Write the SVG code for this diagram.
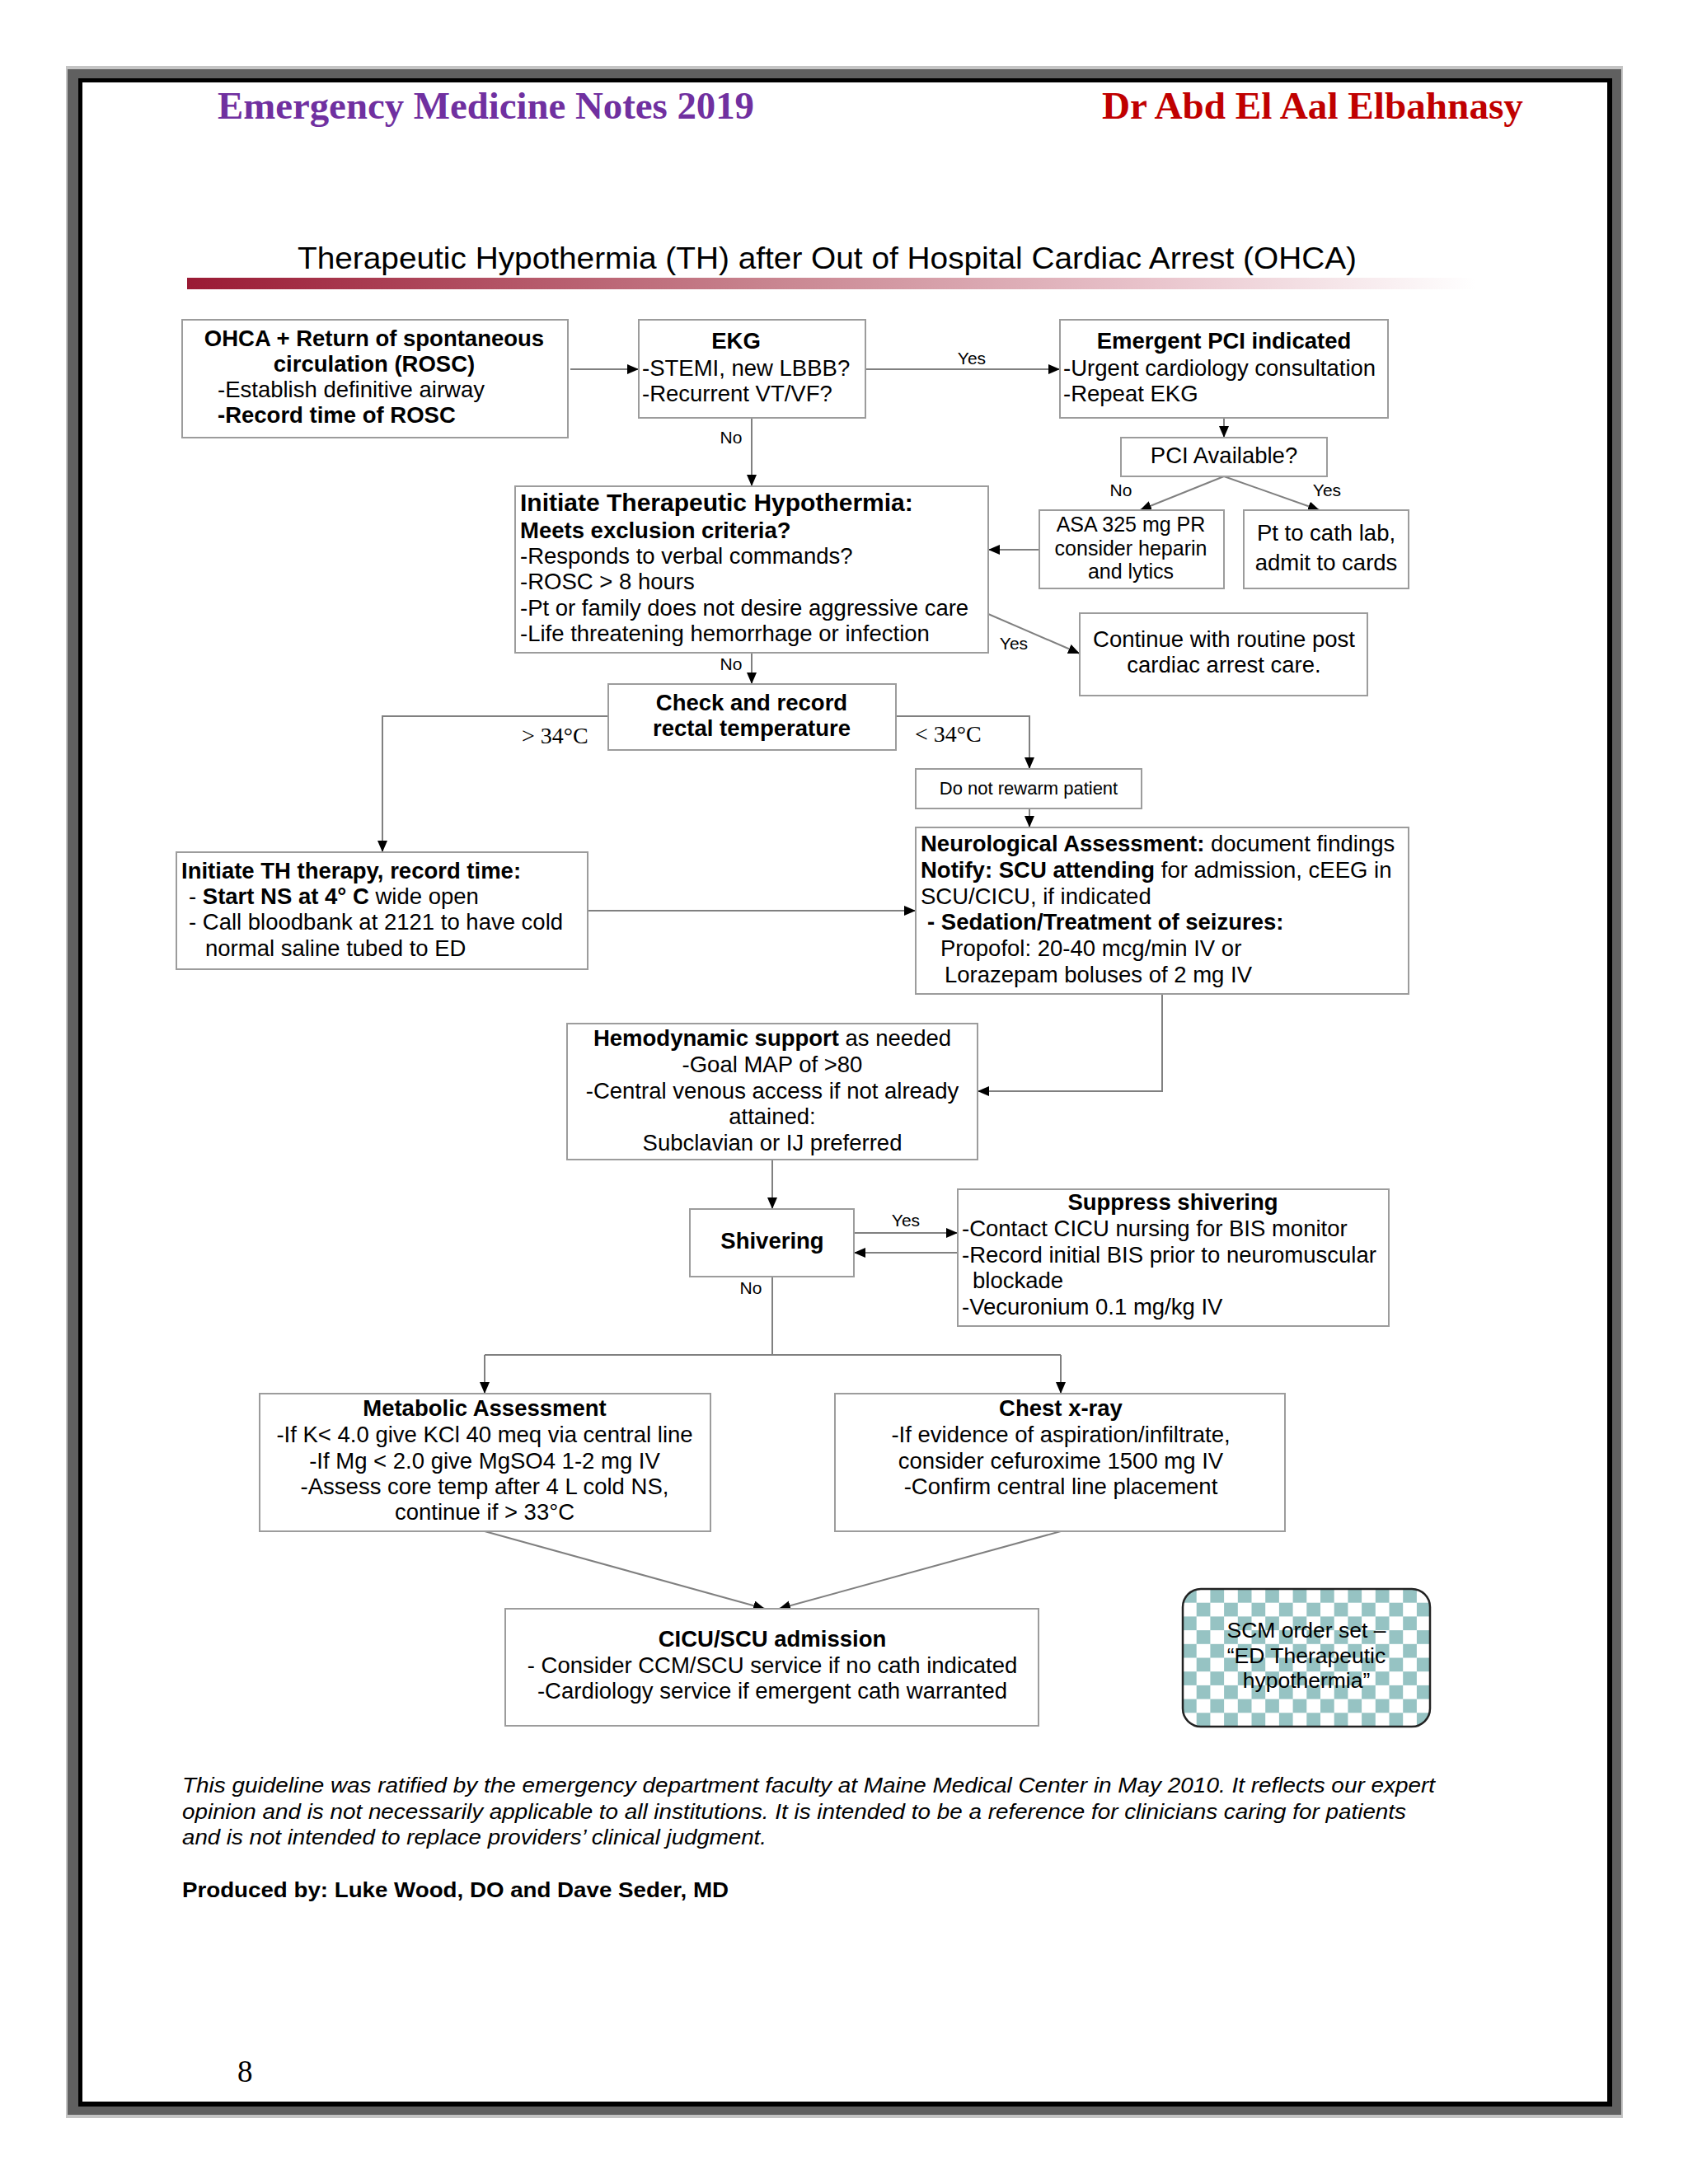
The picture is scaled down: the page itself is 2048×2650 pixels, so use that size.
<svg xmlns="http://www.w3.org/2000/svg" width="2048" height="2650" viewBox="0 0 2048 2650">
<defs>
<style>
.box{fill:#fff;stroke:#9c9c9c;stroke-width:2}
.t{font-family:"Liberation Sans",Arial,sans-serif;font-size:27.5px;fill:#000}
.s25{font-size:25px}
.s26{font-size:26.5px}
.s22{font-size:22px}
.s30{font-size:30px}
.b{font-weight:bold}
.c{text-anchor:middle}
.lbl{font-family:"Liberation Sans",Arial,sans-serif;font-size:21px;fill:#000;text-anchor:middle}
.tmp{font-family:"Liberation Serif","Times New Roman",serif;font-size:28px;fill:#000}
.conn{fill:none;stroke:#808080;stroke-width:2}
</style>
<marker id="ah" markerUnits="userSpaceOnUse" markerWidth="16" markerHeight="14" refX="14" refY="6" orient="auto">
<path d="M0,0 L14,6 L0,12 Z" fill="#000"/>
</marker>
<linearGradient id="bar" x1="0" y1="0" x2="1" y2="0">
<stop offset="0" stop-color="#9a1a34"/>
<stop offset="0.45" stop-color="#c8848f"/>
<stop offset="0.75" stop-color="#e9c4cc"/>
<stop offset="1" stop-color="#ffffff"/>
</linearGradient>
<pattern id="chk" patternUnits="userSpaceOnUse" x="1435" y="1928" width="33.4" height="33.4">
<rect width="33.4" height="33.4" fill="#fff"/>
<rect width="16.7" height="16.7" fill="#96c3c3"/>
<rect x="16.7" y="16.7" width="16.7" height="16.7" fill="#96c3c3"/>
</pattern>
</defs>

<!-- page frame -->
<rect x="0" y="0" width="2048" height="2650" fill="#fff"/>
<rect x="80" y="80" width="1889" height="2490" fill="#c4c4c4"/>
<rect x="82" y="84" width="1885" height="2482" fill="#606060"/>
<rect x="95" y="95" width="1861" height="2461" fill="#000"/>
<rect x="100" y="100" width="1850" height="2450" fill="#fff"/>

<g id="header">
<text x="264" y="144" font-family="'Liberation Serif','Times New Roman',serif" font-weight="bold" font-size="46" fill="#7030a0" textLength="651" lengthAdjust="spacingAndGlyphs">Emergency Medicine Notes 2019</text>
<text x="1337" y="144" font-family="'Liberation Serif','Times New Roman',serif" font-weight="bold" font-size="46" fill="#c00000" textLength="511" lengthAdjust="spacingAndGlyphs">Dr Abd El Aal Elbahnasy</text>
</g>

<g id="title">
<text x="361" y="326" font-family="'Liberation Sans',Arial,sans-serif" font-size="36" fill="#000" textLength="1285" lengthAdjust="spacingAndGlyphs">Therapeutic Hypothermia (TH) after Out of Hospital Cardiac Arrest (OHCA)</text>
<rect x="227" y="337" width="1563" height="14" fill="url(#bar)"/>
</g>

<g id="connectors">
<path class="conn" d="M692,448 H775" marker-end="url(#ah)"/>
<path class="conn" d="M1050,448 H1286" marker-end="url(#ah)"/>
<path class="conn" d="M912,507 V590" marker-end="url(#ah)"/>
<path class="conn" d="M1485,507 V531" marker-end="url(#ah)"/>
<path class="conn" d="M1485,578 L1383,619" marker-end="url(#ah)"/>
<path class="conn" d="M1485,578 L1601,619" marker-end="url(#ah)"/>
<path class="conn" d="M1261,667 H1199" marker-end="url(#ah)"/>
<path class="conn" d="M1199,745 L1310,793" marker-end="url(#ah)"/>
<path class="conn" d="M912,792 V830" marker-end="url(#ah)"/>
<path class="conn" d="M738,869 H464 V1034" marker-end="url(#ah)"/>
<path class="conn" d="M1087,869 H1249 V933" marker-end="url(#ah)"/>
<path class="conn" d="M1249,981 V1004" marker-end="url(#ah)"/>
<path class="conn" d="M713,1105 H1111" marker-end="url(#ah)"/>
<path class="conn" d="M1410,1206 V1324 H1186" marker-end="url(#ah)"/>
<path class="conn" d="M937,1407 V1467" marker-end="url(#ah)"/>
<path class="conn" d="M1036,1496 H1162" marker-end="url(#ah)"/>
<path class="conn" d="M1162,1520 H1036" marker-end="url(#ah)"/>
<path class="conn" d="M937,1549 V1644 M588,1644 H1287"/>
<path class="conn" d="M588,1644 V1691" marker-end="url(#ah)"/>
<path class="conn" d="M1287,1644 V1691" marker-end="url(#ah)"/>
<path class="conn" d="M588,1858 L928,1952" marker-end="url(#ah)"/>
<path class="conn" d="M1287,1858 L945,1952" marker-end="url(#ah)"/>
<text class="lbl" x="1179" y="442">Yes</text>
<text class="lbl" x="887" y="538">No</text>
<text class="lbl" x="1360" y="602">No</text>
<text class="lbl" x="1610" y="602">Yes</text>
<text class="lbl" x="1230" y="788">Yes</text>
<text class="lbl" x="887" y="813">No</text>
<text class="tmp" x="633" y="902">&gt; 34°C</text>
<text class="tmp" x="1110" y="900">&lt; 34°C</text>
<text class="lbl" x="1099" y="1488">Yes</text>
<text class="lbl" x="911" y="1570">No</text>
</g>

<g id="ohca">
<rect class="box" x="221" y="388" width="468" height="143"/>
<text class="t b c" x="454" y="420">OHCA + Return of spontaneous</text>
<text class="t b c" x="454" y="451">circulation (ROSC)</text>
<text class="t" x="264" y="482">-Establish definitive airway</text>
<text class="t b" x="264" y="513">-Record time of ROSC</text>
</g>

<g id="ekg">
<rect class="box" x="775" y="388" width="275" height="119"/>
<text class="t b c" x="893" y="423">EKG</text>
<text class="t" x="779" y="456">-STEMI, new LBBB?</text>
<text class="t" x="779" y="487">-Recurrent VT/VF?</text>
</g>

<g id="pci">
<rect class="box" x="1286" y="388" width="398" height="119"/>
<text class="t b c" x="1485" y="423">Emergent PCI indicated</text>
<text class="t" x="1290" y="456">-Urgent cardiology consultation</text>
<text class="t" x="1290" y="487">-Repeat EKG</text>
</g>

<g id="pci-available">
<rect class="box" x="1360" y="531" width="250" height="47"/>
<text class="t c" x="1485" y="562">PCI Available?</text>
</g>

<g id="asa">
<rect class="box" x="1261" y="619" width="224" height="95"/>
<text class="t s25 c" x="1372" y="645">ASA 325 mg PR</text>
<text class="t s25 c" x="1372" y="674">consider heparin</text>
<text class="t s25 c" x="1372" y="702">and lytics</text>
</g>

<g id="cath">
<rect class="box" x="1509" y="619" width="200" height="95"/>
<text class="t c" x="1609" y="656">Pt to cath lab,</text>
<text class="t c" x="1609" y="692">admit to cards</text>
</g>

<g id="th">
<rect class="box" x="625" y="590" width="574" height="202"/>
<text class="t s30 b" x="631" y="620">Initiate Therapeutic Hypothermia:</text>
<text class="t b" x="631" y="653">Meets exclusion criteria?</text>
<text class="t" x="631" y="684">-Responds to verbal commands?</text>
<text class="t" x="631" y="715">-ROSC &gt; 8 hours</text>
<text class="t" x="631" y="747">-Pt or family does not desire aggressive care</text>
<text class="t" x="631" y="778">-Life threatening hemorrhage or infection</text>
</g>

<g id="continue">
<rect class="box" x="1310" y="744" width="349" height="100"/>
<text class="t c" x="1485" y="785">Continue with routine post</text>
<text class="t c" x="1485" y="816">cardiac arrest care.</text>
</g>

<g id="check">
<rect class="box" x="738" y="830" width="349" height="80"/>
<text class="t b c" x="912" y="862">Check and record</text>
<text class="t b c" x="912" y="893">rectal temperature</text>
</g>

<g id="initiate-th">
<rect class="box" x="214" y="1034" width="499" height="142"/>
<text class="t b" x="220" y="1066">Initiate TH therapy, record time:</text>
<text class="t" x="229" y="1097">- <tspan class="b">Start NS at 4° C</tspan> wide open</text>
<text class="t" x="229" y="1128">- Call bloodbank at 2121 to have cold</text>
<text class="t" x="249" y="1160">normal saline tubed to ED</text>
</g>

<g id="rewarm">
<rect class="box" x="1111" y="933" width="274" height="48"/>
<text class="t s22 c" x="1248" y="964">Do not rewarm patient</text>
</g>

<g id="neuro">
<rect class="box" x="1111" y="1004" width="598" height="202"/>
<text class="t" x="1117" y="1033"><tspan class="b">Neurological Assessment:</tspan> document findings</text>
<text class="t" x="1117" y="1065"><tspan class="b">Notify: SCU attending</tspan> for admission, cEEG in</text>
<text class="t" x="1117" y="1097">SCU/CICU, if indicated</text>
<text class="t b" x="1125" y="1128">- Sedation/Treatment of seizures:</text>
<text class="t" x="1141" y="1160">Propofol: 20-40 mcg/min IV or</text>
<text class="t" x="1146" y="1192">Lorazepam boluses of 2 mg IV</text>
</g>

<g id="hemo">
<rect class="box" x="688" y="1242" width="498" height="165"/>
<text class="t c" x="937" y="1269"><tspan class="b">Hemodynamic support</tspan> as needed</text>
<text class="t c" x="937" y="1301">-Goal MAP of &gt;80</text>
<text class="t c" x="937" y="1333">-Central venous access if not already</text>
<text class="t c" x="937" y="1364">attained:</text>
<text class="t c" x="937" y="1396">Subclavian or IJ preferred</text>
</g>

<g id="shivering">
<rect class="box" x="837" y="1467" width="199" height="82"/>
<text class="t b c" x="937" y="1515">Shivering</text>
</g>

<g id="suppress">
<rect class="box" x="1162" y="1443" width="523" height="166"/>
<text class="t b c" x="1423" y="1468">Suppress shivering</text>
<text class="t" x="1167" y="1500">-Contact CICU nursing for BIS monitor</text>
<text class="t" x="1167" y="1532">-Record initial BIS prior to neuromuscular</text>
<text class="t" x="1180" y="1563">blockade</text>
<text class="t" x="1167" y="1595">-Vecuronium 0.1 mg/kg IV</text>
</g>

<g id="metabolic">
<rect class="box" x="315" y="1691" width="547" height="167"/>
<text class="t b c" x="588" y="1718">Metabolic Assessment</text>
<text class="t c" x="588" y="1750">-If K&lt; 4.0 give KCl 40 meq via central line</text>
<text class="t c" x="588" y="1782">-If Mg &lt; 2.0 give MgSO4 1-2 mg IV</text>
<text class="t c" x="588" y="1813">-Assess core temp after 4 L cold NS,</text>
<text class="t c" x="588" y="1844">continue if &gt; 33°C</text>
</g>

<g id="chest">
<rect class="box" x="1013" y="1691" width="546" height="167"/>
<text class="t b c" x="1287" y="1718">Chest x-ray</text>
<text class="t c" x="1287" y="1750">-If evidence of aspiration/infiltrate,</text>
<text class="t c" x="1287" y="1782">consider cefuroxime 1500 mg IV</text>
<text class="t c" x="1287" y="1813">-Confirm central line placement</text>
</g>

<g id="cicu">
<rect class="box" x="613" y="1952" width="647" height="142"/>
<text class="t b c" x="937" y="1998">CICU/SCU admission</text>
<text class="t c" x="937" y="2030">- Consider CCM/SCU service if no cath indicated</text>
<text class="t c" x="937" y="2061">-Cardiology service if emergent cath warranted</text>
</g>

<g id="scm">
<rect x="1435" y="1928" width="300" height="167" rx="22" ry="22" fill="url(#chk)" stroke="#222" stroke-width="2.5"/>
<text class="t s26 c" x="1585" y="1987">SCM order set –</text>
<text class="t s26 c" x="1585" y="2018">“ED Therapeutic</text>
<text class="t s26 c" x="1585" y="2048">hypothermia”</text>
</g>

<g id="footer" font-family="'Liberation Sans',Arial,sans-serif" font-size="25" fill="#000">
<text x="221" y="2175" font-style="italic" textLength="1520" lengthAdjust="spacingAndGlyphs">This guideline was ratified by the emergency department faculty at Maine Medical Center in May 2010.   It reflects our expert</text>
<text x="221" y="2207" font-style="italic" textLength="1485" lengthAdjust="spacingAndGlyphs">opinion and is not necessarily applicable to all institutions.  It is intended to be a reference for clinicians caring for patients</text>
<text x="221" y="2238" font-style="italic" textLength="709" lengthAdjust="spacingAndGlyphs">and is not intended to replace providers’ clinical judgment.</text>
<text x="221" y="2302" font-weight="bold" textLength="663" lengthAdjust="spacingAndGlyphs">Produced by: Luke Wood, DO and Dave Seder, MD</text>
</g>

<text x="288" y="2526" font-family="'Liberation Serif','Times New Roman',serif" font-size="37" fill="#000">8</text>
</svg>
